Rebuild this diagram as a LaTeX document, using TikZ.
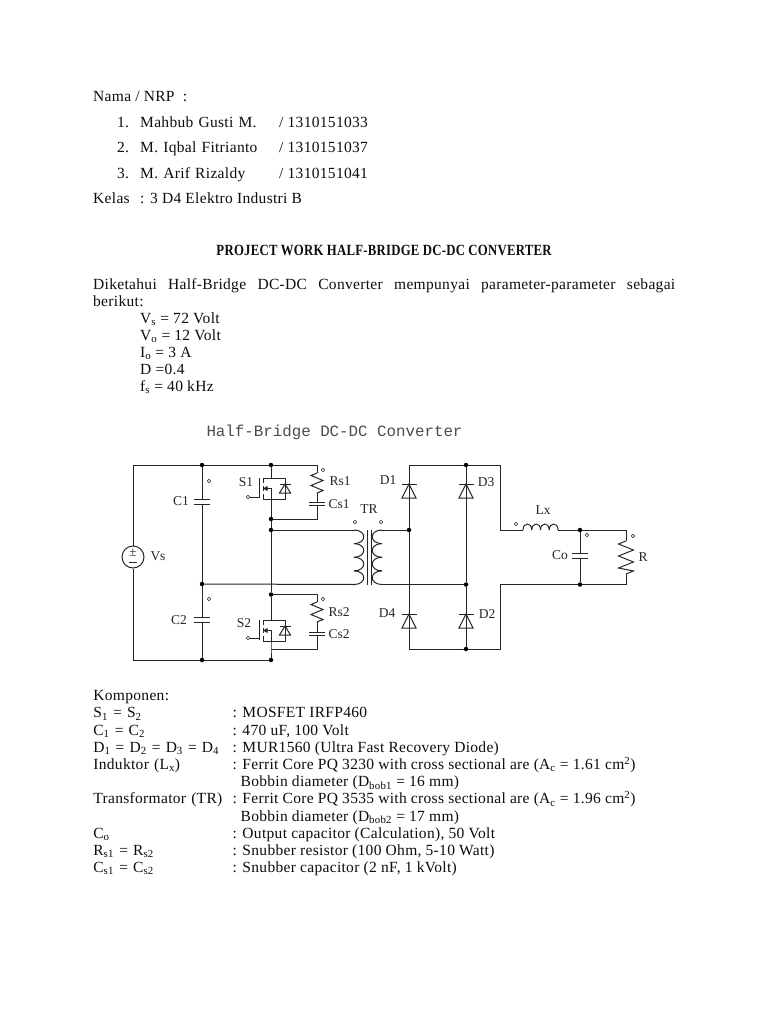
\documentclass[tikz,border=0pt]{standalone}
\usepackage{fontspec}
\usepackage{graphicx}
\setmainfont{Liberation Serif}
\setmonofont{Liberation Mono}
\newfontfamily\bodyfam[LetterSpace=2]{Liberation Serif}
\usetikzlibrary{matrix,calc}
\newcommand{\bodyfont}{\bodyfam\fontsize{15.5}{17}\selectfont}
\newcommand{\circfont}{\fontsize{13.5}{15}\selectfont}
\newcommand{\sbs}[1]{\textsubscript{#1}}
\definecolor{ink}{gray}{0.05}
\definecolor{wire}{gray}{0.15}
\tikzset{
  line/.style = {draw=wire, line width=1pt},
  dot/.style = {circle, fill=black, inner sep=0pt, minimum size=4.5pt},
  hollow/.style = {circle, draw=wire, line width=0.6pt, fill=white, inner sep=0pt, minimum size=3.5pt},
  txt/.style = {anchor=base west, inner sep=0pt, text=ink, font=\bodyfont},
  lbl/.style = {inner sep=0pt, text=wire, font=\circfont},
  pics/diodeup/.style = {code = {
    \draw[line] (-7.5,0) -- (7.5,0);
    \draw[line] (0,0) -- (-7,14) -- (7,14) -- cycle;
  }},
  pics/capv/.style = {code = {
    \draw[line] (-8,0) -- (8,0);
    \draw[line] (-8,#1) -- (8,#1);
  }},
  pics/zigzag/.style = {code = {
    \draw[line] (0,0) -- (-6,2.5) -- (6,7.5) -- (-6,12.5) -- (6,17.5) -- (0,20);
  }},
  pics/fet/.style = {code = {
    % gate, channel and source tie
    \draw[line] (-12,0) -- (-12,20);
    \draw[line] (-8,0) -- (-8,5) (-8,8) -- (-8,13) (-8,16) -- (-8,21);
    \draw[line] (-8,0) -- (0,0) (-8,21) -- (0,21) (-8,10.5) -- (0,10.5) -- (0,21);
    \fill[wire] (-8,10.5) -- (-3.5,8) -- (-3.5,13) -- cycle;
    \draw[line] (0,0) -- (14,0) -- (14,21) -- (0,21);
    \draw[line] (8.5,6) -- (19.5,6);
    \draw[line] (14,6) -- (8.5,15) -- (19.5,15) -- cycle;
  }},
}
\begin{document}
\begin{tikzpicture}[x=1pt, y=-1pt]
  \useasboundingbox (0,0) rectangle (768,1024);
  \fill[white] (0,0) rectangle (768,1024);

  % names
  \node[txt] (nama) at (93,102) {Nama / NRP \ :};
  \matrix (team) [matrix of nodes, anchor=north west, inner sep=0pt, row sep=12.6pt, column sep=0pt,
                  nodes={txt, text height=10pt, text depth=3pt},
                  column 1/.style={nodes={text width=23pt, align=left}},
                  column 2/.style={nodes={text width=139pt, align=left}}] at (117,117) {
      1. & Mahbub Gusti M.   & / 1310151033 \\
      2. & M. Iqbal Fitrianto & / 1310151037 \\
      3. & M. Arif Rizaldy    & / 1310151041 \\
  };
  \node[txt] (kelas) at (93,204) {Kelas};
  \node[txt] (kelasval) at (140,204) {: 3 D4 Elektro Industri B};
  \node[txt, anchor=base] (judul) at (384,255) {\resizebox{335pt}{10.3pt}{\bfseries PROJECT WORK HALF-BRIDGE DC-DC CONVERTER}};
  \node[txt] (intro) at (93,289) {\makebox[582pt][s]{Diketahui Half-Bridge DC-DC Converter mempunyai parameter-parameter sebagai}};
  \node[txt] (intro2) at (93,306) {berikut:};
  \matrix (param) [matrix of nodes, anchor=north west, inner sep=0pt, row sep=4.1pt,
                   nodes={txt, text height=10pt, text depth=3pt}] at (140,313) {
      V\sbs{s} = 72 Volt \\
      V\sbs{o} = 12 Volt \\
      I\sbs{o} = 3 A \\
      D =0.4 \\
      f\sbs{s} = 40 kHz \\
  };

  % circuit title
  \node[inner sep=0pt, text=black!70, font=\ttfamily\fontsize{15.8}{17}\selectfont] (ctitle) at (334.5,432) {Half-Bridge DC-DC Converter};

  % junctions
  \node[dot] (c1t) at (202,465) {};
  \node[dot] (swt) at (271,465) {};
  \node[dot] (cmid) at (202,584) {};
  \node[dot] (cb) at (202,660) {};
  \node[dot] (swb) at (271,660) {};
  \node[dot] (sn1) at (271,519) {};
  \node[dot] (prit) at (271,530) {};
  \node[dot] (sn2) at (271,594.5) {};
  \node[dot] (sect) at (409,530) {};
  \node[dot] (brt) at (466,465) {};
  \node[dot] (secb) at (466,584.5) {};
  \node[dot] (brb) at (466,649) {};
  \node[dot] (cot) at (580,530) {};
  \node[dot] (cob) at (580,584.5) {};

  % corners and free ends
  \coordinate (lt) at (133,465);
  \coordinate (lb) at (133,660);
  \coordinate (rs1t) at (317,465);
  \coordinate (cs1b) at (317,519);
  \coordinate (rs2t) at (317,594.5);
  \coordinate (cs2b) at (317,649);
  \coordinate (swb2) at (271,649);
  \coordinate (pria) at (355,530);
  \coordinate (prib) at (355,584.5);
  \coordinate (seca) at (381,530);
  \coordinate (secc) at (381,584.5);
  \coordinate (brlt) at (409,465);
  \coordinate (brlb) at (409,649);
  \coordinate (ot) at (500,465);
  \coordinate (ol) at (500,530);
  \coordinate (lxa) at (523,530);
  \coordinate (lxb) at (558,530);
  \coordinate (rt) at (626,530);
  \coordinate (rb) at (626,584.5);
  \coordinate (ob) at (500,584.5);
  \coordinate (obb) at (500,649);

  % source
  \node[circle, draw=wire, line width=1pt, inner sep=0pt, minimum size=22pt] (vs) at (133,557) {};
  \node[lbl, font=\fontsize{13}{13}\selectfont] (vspm) at (133,552.5) {±};
  \node[inner sep=0pt, minimum width=8pt, minimum height=1pt, fill=wire] (vsmin) at (133,562.5) {};
  \draw[line] (vs) -- (lt) -- (c1t) -- (swt) -- (rs1t);
  \draw[line] (vs) -- (lb) -- (cb) -- (swb);

  % capacitors
  \pic at (202,499) {capv=5};
  \pic at (202,617) {capv=5};
  \draw[line] (c1t) -- (202,499) (202,504) -- (cmid) -- (202,617) (202,622) -- (cb);

  % switch rail, primary wires
  \draw[line] (swt) -- (271,478) (271,499) -- (sn1) -- (prit) -- (sn2) -- (271,620) (271,641) -- (swb2) -- (swb);
  \pic at (271,478) {fet};
  \pic at (271,620) {fet};
  \node[hollow] (g1) at (248,497) {};
  \node[hollow] (g2) at (248,638) {};
  \draw[line] (g1) -- (259,497);
  \draw[line] (g2) -- (259,638);

  % snubbers
  \pic at (317,473) {zigzag};
  \pic at (317,602) {zigzag};
  \pic at (317,502) {capv=3.5};
  \pic at (317,632) {capv=3.5};
  \draw[line] (rs1t) -- (317,473) (317,493) -- (317,502) (317,505.5) -- (cs1b) -- (sn1);
  \draw[line] (sn2) -- (rs2t) -- (317,602) (317,622) -- (317,632) (317,635.5) -- (cs2b) -- (swb2);

  % transformer
  \draw[line] (prit) -- (pria);
  \draw[line] (cmid) -- (prib);
  \draw[line] (seca) -- (sect) -- (brlt) -- (brt) -- (ot) -- (ol) -- (lxa);
  \draw[line] (secc) -- (secb);
  \foreach \i in {0,1,2,3} {
    \draw[line] (354,530+13.625*\i) .. controls (367,530+13.625*\i) and (367,530+13.625*\i+13.625) .. (354,530+13.625*\i+13.625);
    \draw[line] (382,530+13.625*\i) .. controls (369,530+13.625*\i) and (369,530+13.625*\i+13.625) .. (382,530+13.625*\i+13.625);
  }
  \draw[line] (367,530) -- (367,585) (371,530) -- (371,585);

  % rectifier bridge
  \pic at (409,484) {diodeup};
  \pic at (466,484) {diodeup};
  \pic at (409,614) {diodeup};
  \pic at (466,614) {diodeup};
  \draw[line] (brlt) -- (sect) -- (brlb) -- (brb) -- (obb) -- (ob) -- (cob) -- (rb) -- (rt) -- (cot) -- (lxb);
  \draw[line] (brt) -- (secb) -- (brb);

  % output filter
  \foreach \i in {0,1,2,3} {
    \draw[line] (523+8.75*\i,530) .. controls (523+8.75*\i,522) and (523+8.75*\i+8.75,522) .. (523+8.75*\i+8.75,530);
  }
  \pic at (580,553) {capv=5};
  \draw[line] (cot) -- (580,553) (580,558) -- (cob);
  \fill[white] (617,541) rectangle (635,574);
  \draw[line] (626,541) -- (618.5,544) -- (633.5,550) -- (618.5,556) -- (633.5,562) -- (618.5,568) -- (633.5,571) -- (626,574);

  % polarity marks
  \node[hollow] (m1) at (209,481) {};
  \node[hollow] (m2) at (209,599) {};
  \node[hollow] (m3) at (323,470) {};
  \node[hollow] (m4) at (323,599) {};
  \node[hollow] (m5) at (355,522) {};
  \node[hollow] (m6) at (381,522) {};
  \node[hollow] (m7) at (516,524) {};
  \node[hollow] (m8) at (587,535) {};
  \node[hollow] (m9) at (633,536) {};

  % circuit labels
  \node[lbl] (lvs) at (158,556) {Vs};
  \node[lbl] (lc1) at (181,501) {C1};
  \node[lbl] (lc2) at (179,620) {C2};
  \node[lbl] (ls1) at (246,482) {S1};
  \node[lbl] (ls2) at (244,623) {S2};
  \node[lbl] (lrs1) at (340,481) {Rs1};
  \node[lbl] (lcs1) at (339,504) {Cs1};
  \node[lbl] (lrs2) at (339,612) {Rs2};
  \node[lbl] (lcs2) at (339,634) {Cs2};
  \node[lbl] (ltr) at (369,509) {TR};
  \node[lbl] (ld1) at (388,480) {D1};
  \node[lbl] (ld3) at (486,482) {D3};
  \node[lbl] (ld4) at (387,613) {D4};
  \node[lbl] (ld2) at (487,614) {D2};
  \node[lbl] (llx) at (543,510) {Lx};
  \node[lbl] (lco) at (560,555) {Co};
  \node[lbl] (lr) at (643,557) {R};

  % components
  \matrix (komp) [matrix of nodes, anchor=north west, inner sep=0pt, row sep=4pt, column sep=0pt,
                  nodes={txt, text height=10pt, text depth=3.2pt},
                  column 1/.style={nodes={text width=139pt, align=left}}] at (93,690.5) {
      Komponen: & \\
      S\sbs{1} = S\sbs{2} & : MOSFET IRFP460 \\
      C\sbs{1} = C\sbs{2} & : 470 uF, 100 Volt \\
      D\sbs{1} = D\sbs{2} = D\sbs{3} = D\sbs{4} & : MUR1560 (Ultra Fast Recovery Diode) \\
      Induktor (L\sbs{x}) & : Ferrit Core PQ 3230 with cross sectional are (A\sbs{c} = 1.61 cm\textsuperscript{2}) \\
      & \hspace*{8pt}Bobbin diameter (D\sbs{bob1} = 16 mm) \\
      Transformator (TR) & : Ferrit Core PQ 3535 with cross sectional are (A\sbs{c} = 1.96 cm\textsuperscript{2}) \\
      & \hspace*{8pt}Bobbin diameter (D\sbs{bob2} = 17 mm) \\
      C\sbs{o} & : Output capacitor (Calculation), 50 Volt \\
      R\sbs{s1} = R\sbs{s2} & : Snubber resistor (100 Ohm, 5-10 Watt) \\
      C\sbs{s1} = C\sbs{s2} & : Snubber capacitor (2 nF, 1 kVolt) \\
  };
\end{tikzpicture}
\end{document}
